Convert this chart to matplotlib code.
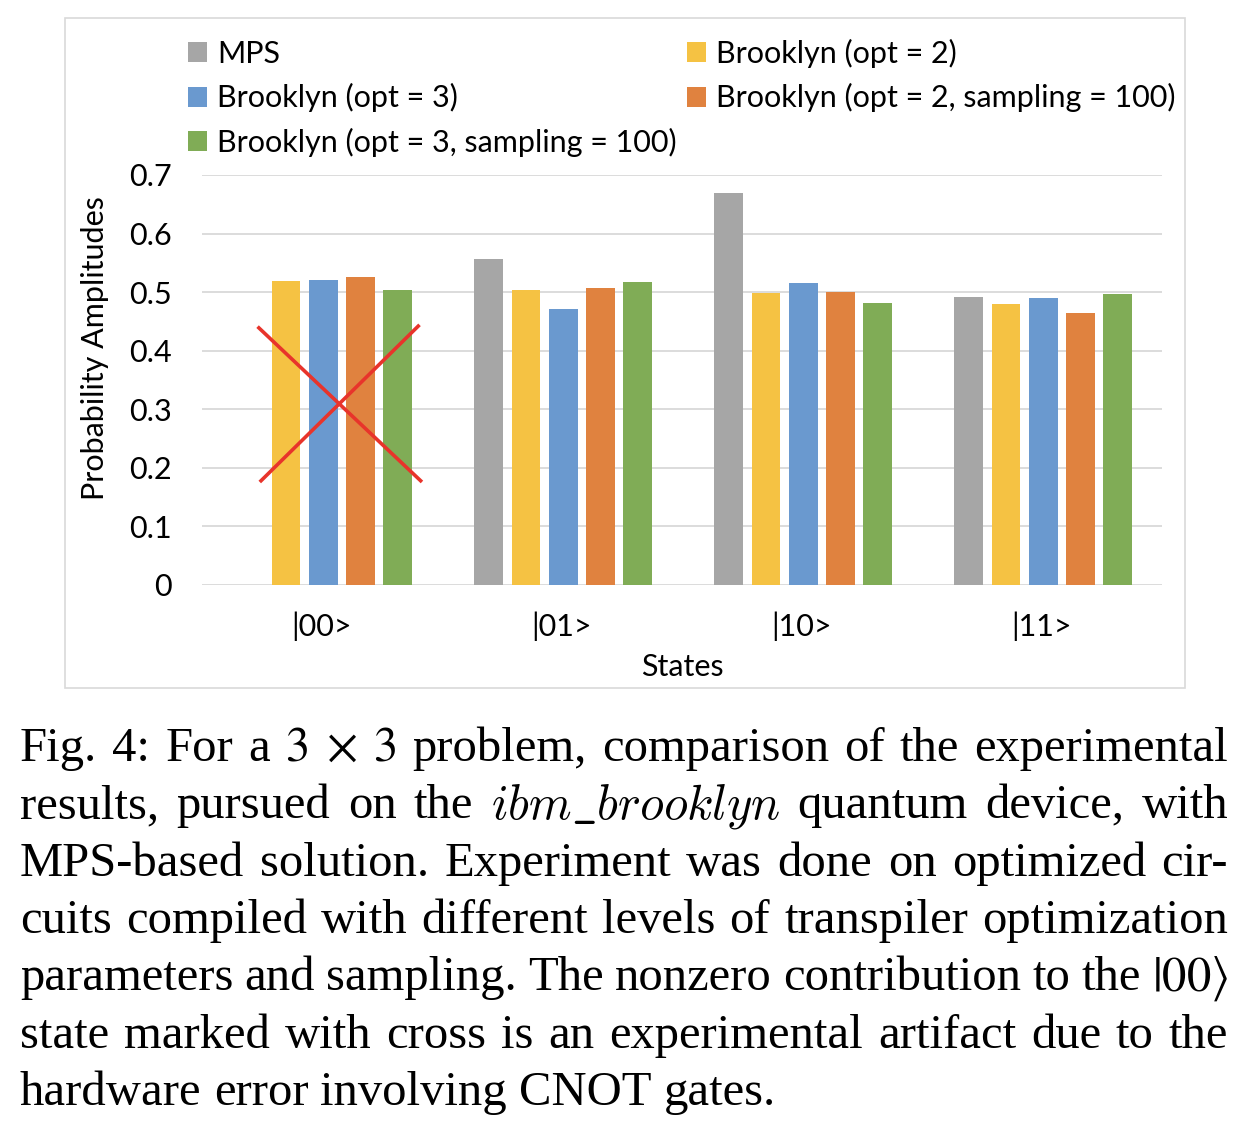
import numpy as np
import matplotlib
matplotlib.use("Agg")
import matplotlib.pyplot as plt
from matplotlib.patches import Rectangle

plt.rcParams['font.family'] = ['Lato', 'DejaVu Sans']
plt.rcParams['mathtext.fontset'] = 'stix'

states = ['|00>', '|01>', '|10>', '|11>']
series = ['MPS', 'Brooklyn (opt = 2)', 'Brooklyn (opt = 3)',
          'Brooklyn (opt = 2, sampling = 100)', 'Brooklyn (opt = 3, sampling = 100)']
colors = ['#a6a6a6', '#f5c243', '#6a99cf', '#e0823f', '#80ac56']

mps = [0.0, 0.556, 0.670, 0.491]
opt2 = [0.519, 0.503, 0.498, 0.479]
opt3 = [0.520, 0.472, 0.515, 0.490]
opt2_s100 = [0.526, 0.507, 0.500, 0.465]
opt3_s100 = [0.503, 0.517, 0.481, 0.497]
values = [mps, opt2, opt3, opt2_s100, opt3_s100]

# the red cross over |00>
cross_x = [[-0.263, 0.411], [-0.254, 0.401]]
cross_y = [[0.439, 0.178], [0.178, 0.442]]

W, H = 1252, 1136
fs = 22
fig = plt.figure(figsize=(W / 100, H / 100), dpi=100)

# light frame around the chart
fig.add_artist(Rectangle((65 / W, 1 - 688 / H), 1120 / W, 670 / H,
                         transform=fig.transFigure, fill=False,
                         edgecolor='#d9d9d9', lw=1.2))

ax = fig.add_axes([202 / W, 1 - 585 / H, 960 / W, 410 / H])
x = np.arange(len(states))
step, width = 0.155, 0.12
bars = []
for i, (name, vals, c) in enumerate(zip(series, values, colors)):
    b = ax.bar(x + (i - 2) * step + 0.005, vals, width, color=c, label=name, zorder=3)
    bars.append(b)

for xs, ys in zip(cross_x, cross_y):
    ax.plot(xs, ys, color='#e8342b', lw=2.6, zorder=4)

ax.set_xlim(-0.5, 3.5)
ax.set_ylim(0, 0.7)
ax.set_yticks(np.arange(0, 0.71, 0.1))
ax.set_yticklabels(['0', '0.1', '0.2', '0.3', '0.4', '0.5', '0.6', '0.7'])
ax.set_xticks(x)
ax.set_xticklabels(states)
ax.tick_params(length=0, labelsize=fs)
ax.tick_params(axis='y', pad=22)
ax.tick_params(axis='x', pad=19)
ax.grid(axis='y', color='#d9d9d9', lw=1.3, zorder=0)
for s in ax.spines.values():
    s.set_visible(False)

ax.set_ylabel('Probability Amplitudes', fontsize=fs)
ax.yaxis.set_label_coords(-0.097, 0.578)
ax.set_xlabel('States', fontsize=fs, va='center')
ax.xaxis.set_label_coords(0.5, -82 / 410)

order = [0, 2, 4, 1, 3]
fig.legend([bars[i] for i in order], [series[i] for i in order],
           loc='upper left', bbox_to_anchor=(188 / W, 1 - 39 / H), ncol=2,
           frameon=False, fontsize=fs, handlelength=0.62, handleheight=0.62,
           handletextpad=0.33, columnspacing=0.35, labelspacing=0.5,
           borderpad=0, borderaxespad=0)

# caption, justified line by line
caption = [
    "Fig. 4: For a $3\\;\\times\\;3$ problem, comparison of the experimental",
    "results, pursued on the $ibm\\_brooklyn$ quantum device, with",
    "MPS-based solution. Experiment was done on optimized cir-",
    "cuits compiled with different levels of transpiler optimization",
    "parameters and sampling. The nonzero contribution to the $|00\\rangle$",
    "state marked with cross is an experimental artifact due to the",
    "hardware error involving CNOT gates.",
]
cap_size = 35
left_px, right_px = 20, 1228
base0, pitch = 761, 57.3
fig.canvas.draw()
renderer = fig.canvas.get_renderer()


def split_words(line):
    words, cur, in_math = [], '', False
    for ch in line:
        if ch == '$':
            in_math = not in_math
        if ch == ' ' and not in_math:
            words.append(cur)
            cur = ''
        else:
            cur += ch
    words.append(cur)
    return words


for k, line in enumerate(caption):
    words = split_words(line)
    texts = []
    for w in words:
        mff = 'cm' if 'ibm' in w else 'stix'
        texts.append(fig.text(0, 0, w, fontsize=cap_size, family='Liberation Serif',
                              va='baseline', ha='left', math_fontfamily=mff))
    widths = [t.get_window_extent(renderer).width for t in texts]
    if k < len(caption) - 1:
        gap = (right_px - left_px - sum(widths)) / (len(words) - 1)
    else:
        gap = cap_size * 100 / 72 * 0.25
    xp = left_px
    y = 1 - (base0 + k * pitch) / H
    for t, w in zip(texts, widths):
        t.set_position((xp / W, y))
        xp += w + gap

fig.savefig('out.png', dpi=100)
